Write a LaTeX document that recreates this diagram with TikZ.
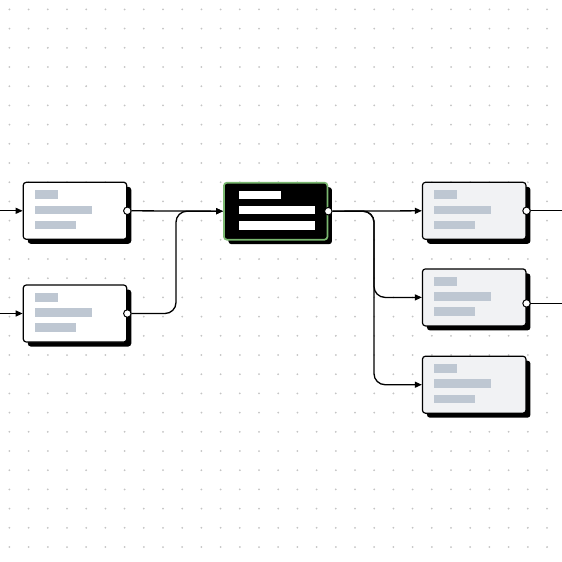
\documentclass[tikz,border=0pt]{standalone}
\usepackage{tikz}
\usetikzlibrary{arrows.meta, shadows}
\definecolor{barblue}{RGB}{190,199,210}
\definecolor{panelgray}{RGB}{241,242,244}
\definecolor{selgreen}{RGB}{122,184,112}
\definecolor{dotgray}{RGB}{196,196,196}
\tikzset{
    card/.style={draw=black, line width=1.2pt, rounded corners=3pt, minimum width=103.5pt, minimum height=57pt, inner sep=0pt,
        drop shadow={shadow xshift=4.5pt, shadow yshift=-4.5pt, fill=black, opacity=1}}, % 卡片的样式
    port/.style={circle, draw, fill=white, line width=1pt, inner sep=0pt, minimum size=7.5pt}, % 输出端口
    wire/.style={line width=1.3pt, rounded corners=11pt}, % 连线
    feed/.style={wire, -{Stealth[length=7pt, width=6pt, inset=0pt]}} % 带箭头的连线
}
% 卡片里的三条横条
\newcommand{\cardbars}[6]{
    \fill[#2] ([xshift=#6, yshift=-8.7pt]#1.north west) rectangle ++(#3, 8.5);
    \fill[#2] ([xshift=#6, yshift=-23.8pt]#1.north west) rectangle ++(#4, 8.5);
    \fill[#2] ([xshift=#6, yshift=-38.9pt]#1.north west) rectangle ++(#5, 8.8);
}

\begin{document}
\begin{tikzpicture}[x=1pt, y=-1pt]
    \useasboundingbox (0,0) rectangle (562,562);
    \fill[white] (0,0) rectangle (562,562);
    \foreach \i in {0,...,28} {\foreach \j in {0,...,28} {\fill[dotgray] (9.4+19.2*\i, 9.4+19.2*\j) circle (1pt);}}

    \node[card, fill=white] (A1) at (75,210.8) {};
    \node[card, fill=white] (A2) at (75,313.5) {};
    \node[card, fill=black, draw=selgreen, line width=1.7pt] (C) at (275.7,211.2) {};
    \node[card, fill=panelgray] (B1) at (474.2,210.8) {};
    \node[card, fill=panelgray] (B2) at (474.2,297.4) {};
    \node[card, fill=panelgray] (B3) at (474.2,384.7) {};

    \cardbars{A1}{barblue}{22.3}{57}{40.7}{12.7pt}
    \cardbars{A2}{barblue}{22.3}{57}{40.7}{12.7pt}
    \cardbars{C}{white}{42.3}{76}{76}{16pt}
    \cardbars{B1}{barblue}{22.3}{57}{40.7}{12.5pt}
    \cardbars{B2}{barblue}{22.3}{57}{40.7}{12.5pt}
    \cardbars{B3}{barblue}{22.3}{57}{40.7}{12.5pt}

    \node[port] (A1o) at (A1.east) {};
    \node[port] (A2o) at (A2.east) {};
    \node[port] (Co) at (C.east) {};
    \node[port] (B1o) at (B1.east) {};
    \node[port] (B2o) at ([yshift=-6pt]B2.east) {};

    \coordinate (inA1) at (0,210.8);
    \coordinate (inA2) at (0,313.5);
    \coordinate (outB1) at (562,210.8);
    \coordinate (outB2) at (562,303.4);
    \coordinate (jL) at (176,260);
    \coordinate (jR) at (374,250);

    \draw[feed] (inA1) -- (A1.west);
    \draw[feed] (inA2) -- (A2.west);
    \draw[feed] (A1o.east) -- (C.west);
    \draw[feed] (A2o.east) -| (jL) |- (C.west);
    \draw[feed] (Co.east) -- (B1.west);
    \draw[feed] (Co.east) -| (jR) |- (B2.west);
    \draw[feed] (Co.east) -| (jR) |- (B3.west);
    \draw[wire] (B1o.east) -- (outB1);
    \draw[wire] (B2o.east) -- (outB2);
\end{tikzpicture}
\end{document}
